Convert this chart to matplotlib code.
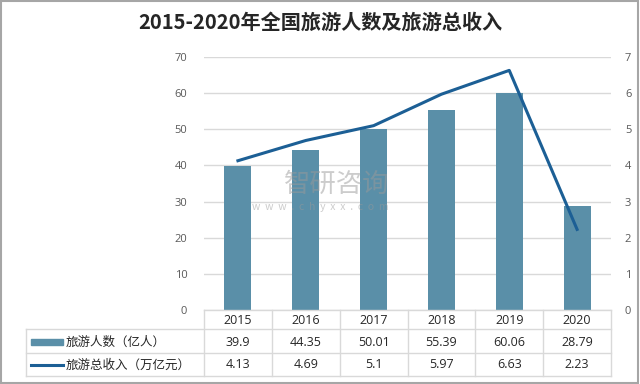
import matplotlib.pyplot as plt
from matplotlib.lines import Line2D
from matplotlib.patches import Rectangle

plt.rcParams['font.family'] = ['Noto Sans CJK SC', 'DejaVu Sans']

# data
years = ['2015', '2016', '2017', '2018', '2019', '2020']
visitors = [39.9, 44.35, 50.01, 55.39, 60.06, 28.79]      # 亿人
revenue = [4.13, 4.69, 5.1, 5.97, 6.63, 2.23]             # 万亿元
visitors_txt = ['39.9', '44.35', '50.01', '55.39', '60.06', '28.79']
revenue_txt = ['4.13', '4.69', '5.1', '5.97', '6.63', '2.23']
row_names = ['旅游人数（亿人）', '旅游总收入（万亿元）']

bar_color = '#5A8FA8'
line_color = '#1C5F95'
grid_color = '#D9D9D9'
tick_color = '#595959'
num_font = ['Open Sans', 'DejaVu Sans']

W, H = 640, 384
fig = plt.figure(figsize=(6.4, 3.84), dpi=100)

def fx(px):
    return px / W

def fy(py):
    return 1 - py / H

left, right, top, bottom = 204, 611, 57, 310
ax = fig.add_axes([fx(left), fy(bottom), fx(right) - fx(left), fy(top) - fy(bottom)])
x = list(range(len(years)))
ax.bar(x, visitors, width=0.4, color=bar_color, zorder=2)
ax.set_xlim(-0.5, len(years) - 0.5)
ax.set_ylim(0, 70)
ax.set_yticks(range(0, 71, 10))
ax.grid(axis='y', color=grid_color, linewidth=1, zorder=0)
ax.set_xticks([])
for s in ax.spines.values():
    s.set_visible(False)
ax.tick_params(axis='y', length=0, labelsize=8, labelcolor=tick_color, pad=12)

ax2 = ax.twinx()
ax2.plot(x, revenue, color=line_color, linewidth=2.2, zorder=3)
ax2.set_ylim(0, 7)
ax2.set_yticks(range(0, 8))
for s in ax2.spines.values():
    s.set_visible(False)
ax2.tick_params(axis='y', length=0, labelsize=8, labelcolor=tick_color, pad=10)
for lab in ax.get_yticklabels() + ax2.get_yticklabels():
    lab.set_family(num_font)

# title
fig.text(0.5, fy(22), '2015-2020年全国旅游人数及旅游总收入', ha='center', va='center',
         fontsize=14.5, fontweight='bold', color='#262626')

# watermark
fig.text(fx(337), fy(184), '智研咨询', ha='center', va='center', fontsize=19,
         color='#9A9A9A', alpha=0.5, zorder=5)
fig.text(fx(320), fy(207), 'w  w  w  .  c  h  y  x  x  .  c  o  m', ha='center', va='center',
         fontsize=7.5, color='#9A9A9A', alpha=0.5, zorder=5)

# data table drawn beneath the plot
col_w = (right - left) / len(years)
row_y = [310, 329, 353, 376]
line_kw = dict(color=grid_color, linewidth=1, transform=fig.transFigure)
fig.add_artist(Line2D([fx(left), fx(right)], [fy(row_y[0])] * 2, **line_kw))
for yy in row_y[1:]:
    fig.add_artist(Line2D([fx(26), fx(right)], [fy(yy)] * 2, **line_kw))
for i in range(len(years) + 1):
    xx = left + i * col_w
    fig.add_artist(Line2D([fx(xx)] * 2, [fy(row_y[0]), fy(row_y[-1])], **line_kw))
fig.add_artist(Line2D([fx(26)] * 2, [fy(row_y[1]), fy(row_y[-1])], **line_kw))

for i, yr in enumerate(years):
    cx = fx(left + (i + 0.5) * col_w)
    fig.text(cx, fy(320), yr, ha='center', va='center', fontsize=9, color='#262626',
             family=num_font)
    fig.text(cx, fy(342), visitors_txt[i], ha='center', va='center', fontsize=9,
             color='#262626', family=num_font)
    fig.text(cx, fy(365), revenue_txt[i], ha='center', va='center', fontsize=9,
             color='#262626', family=num_font)

fig.add_artist(Rectangle((fx(31), fy(345)), fx(63) - fx(31), fy(339) - fy(345),
                         color=bar_color, transform=fig.transFigure))
fig.add_artist(Line2D([fx(31), fx(63)], [fy(365)] * 2, color=line_color, linewidth=2.2,
                      transform=fig.transFigure))
fig.text(fx(66), fy(342), row_names[0], ha='left', va='center', fontsize=9, color='#262626')
fig.text(fx(66), fy(365), row_names[1], ha='left', va='center', fontsize=9, color='#262626')

# outer frame
fig.add_artist(Rectangle((0.002, 0.003), 0.995, 0.994, fill=False, edgecolor='#A6A6A6',
                         linewidth=1.5, transform=fig.transFigure))

fig.savefig('out.png', dpi=100)
